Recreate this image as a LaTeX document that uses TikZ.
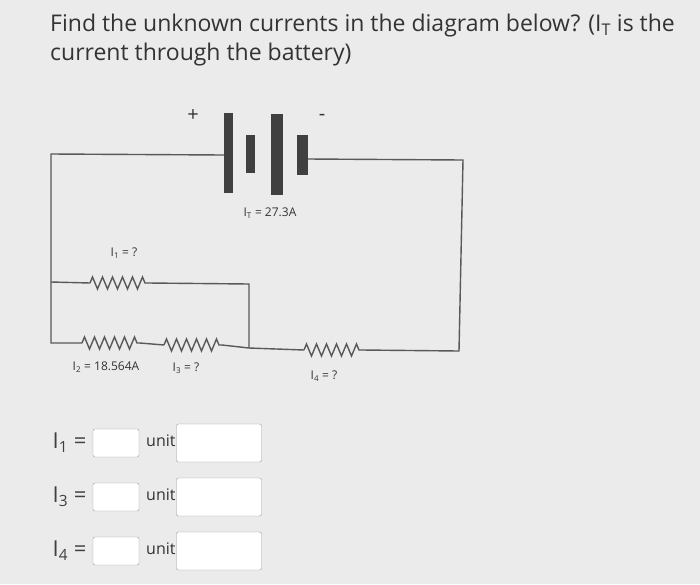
\documentclass[tikz,border=0pt]{standalone}
\usepackage{fontspec}
\setmainfont{Open Sans}
\usetikzlibrary{decorations.pathmorphing}
\newcommand{\sbs}[1]{\textsubscript{#1}}
\begin{document}
\begin{tikzpicture}[x=1pt,y=-1pt,
  wire/.style={draw=black!65,line width=1.4pt},
  res/.style={wire,decorate,decoration={zigzag,segment length=10pt,amplitude=6pt}},
  plate/.style={fill=black!75,draw=none},
  lbl/.style={font=\fontsize{12}{14}\selectfont,text=black!80},
  ans/.style={font=\fontsize{22}{26}\selectfont,text=black!75,anchor=east},
  sbox/.style={draw=black!40,fill=white,rounded corners=2pt,minimum width=46pt,minimum height=28pt},
  bbox/.style={draw=black!40,fill=white,rounded corners=2pt,minimum width=85pt,minimum height=38pt}]
\fill[black!8] (0,0) rectangle (700,584);
\node[anchor=north west,align=left,text=black!80,font=\fontsize{23}{29}\selectfont,inner sep=0] (title) at (50,14)
 {Find the unknown currents in the diagram below? (I\sbs{T} is the\\current through the battery)};
% battery
\fill[plate] (224,113) rectangle (233,193);
\fill[plate] (246,135) rectangle (255,173);
\fill[plate] (271,114) rectangle (283,195);
\fill[plate] (297,135) rectangle (308,175);
\coordinate (bp) at (224,155);
\coordinate (bn) at (308,159);
\node[lbl,font=\fontsize{20}{20}\selectfont] (plus) at (193,116) {+};
\node[lbl,font=\fontsize{20}{20}\selectfont] (minus) at (322,117) {-};
\node[lbl] (IT) at (270,213) {I\sbs{T} = 27.3A};
% corners
\coordinate (tl) at (51,154);
\coordinate (tr) at (463,160);
\coordinate (br) at (459,351);
\coordinate (bl) at (51,343);
\coordinate (j1) at (51,282);
\coordinate (j2) at (249,284);
\coordinate (j3) at (249,348);
% resistors
\coordinate (r1a) at (90,283); \coordinate (r1b) at (148,283);
\coordinate (r2a) at (82,343); \coordinate (r2b) at (140,343);
\coordinate (r3a) at (164,345); \coordinate (r3b) at (222,345);
\coordinate (r4a) at (304,350); \coordinate (r4b) at (362,350);
\draw[wire] (bp) -- (tl) -- (bl) -- (r2a);
\draw[wire] (bn) -- (tr) -- (br) -- (r4b);
\draw[wire] (j1) -- (r1a);
\draw[res] (r1a) -- (r1b);
\draw[wire] (r1b) -- (j2) -- (j3);
\draw[res] (r2a) -- (r2b);
\draw[wire] (r2b) -- (r3a);
\draw[res] (r3a) -- (r3b);
\draw[wire] (r3b) -- (j3) -- (r4a);
\draw[res] (r4a) -- (r4b);
\node[lbl] (I1) at (124,253) {I\sbs{1} = ?};
\node[lbl] (I2) at (106,367) {I\sbs{2} = 18.564A};
\node[lbl] (I3) at (186,368) {I\sbs{3} = ?};
\node[lbl] (I4) at (324,376) {I\sbs{4} = ?};
% answers
\foreach \y/\n [count=\i] in {443/1,497/3,551/4}{
  \node[ans] (a\i) at (90,\y) {I\sbs{\n} =};
  \node[sbox] (s\i) at (116,\y) {};
  \node[lbl,font=\fontsize{16}{18}\selectfont,anchor=west,inner sep=0] (u\i) at (146,\y-2) {unit};
  \node[bbox] (b\i) at (219,\y) {};
}
\end{tikzpicture}
\end{document}
